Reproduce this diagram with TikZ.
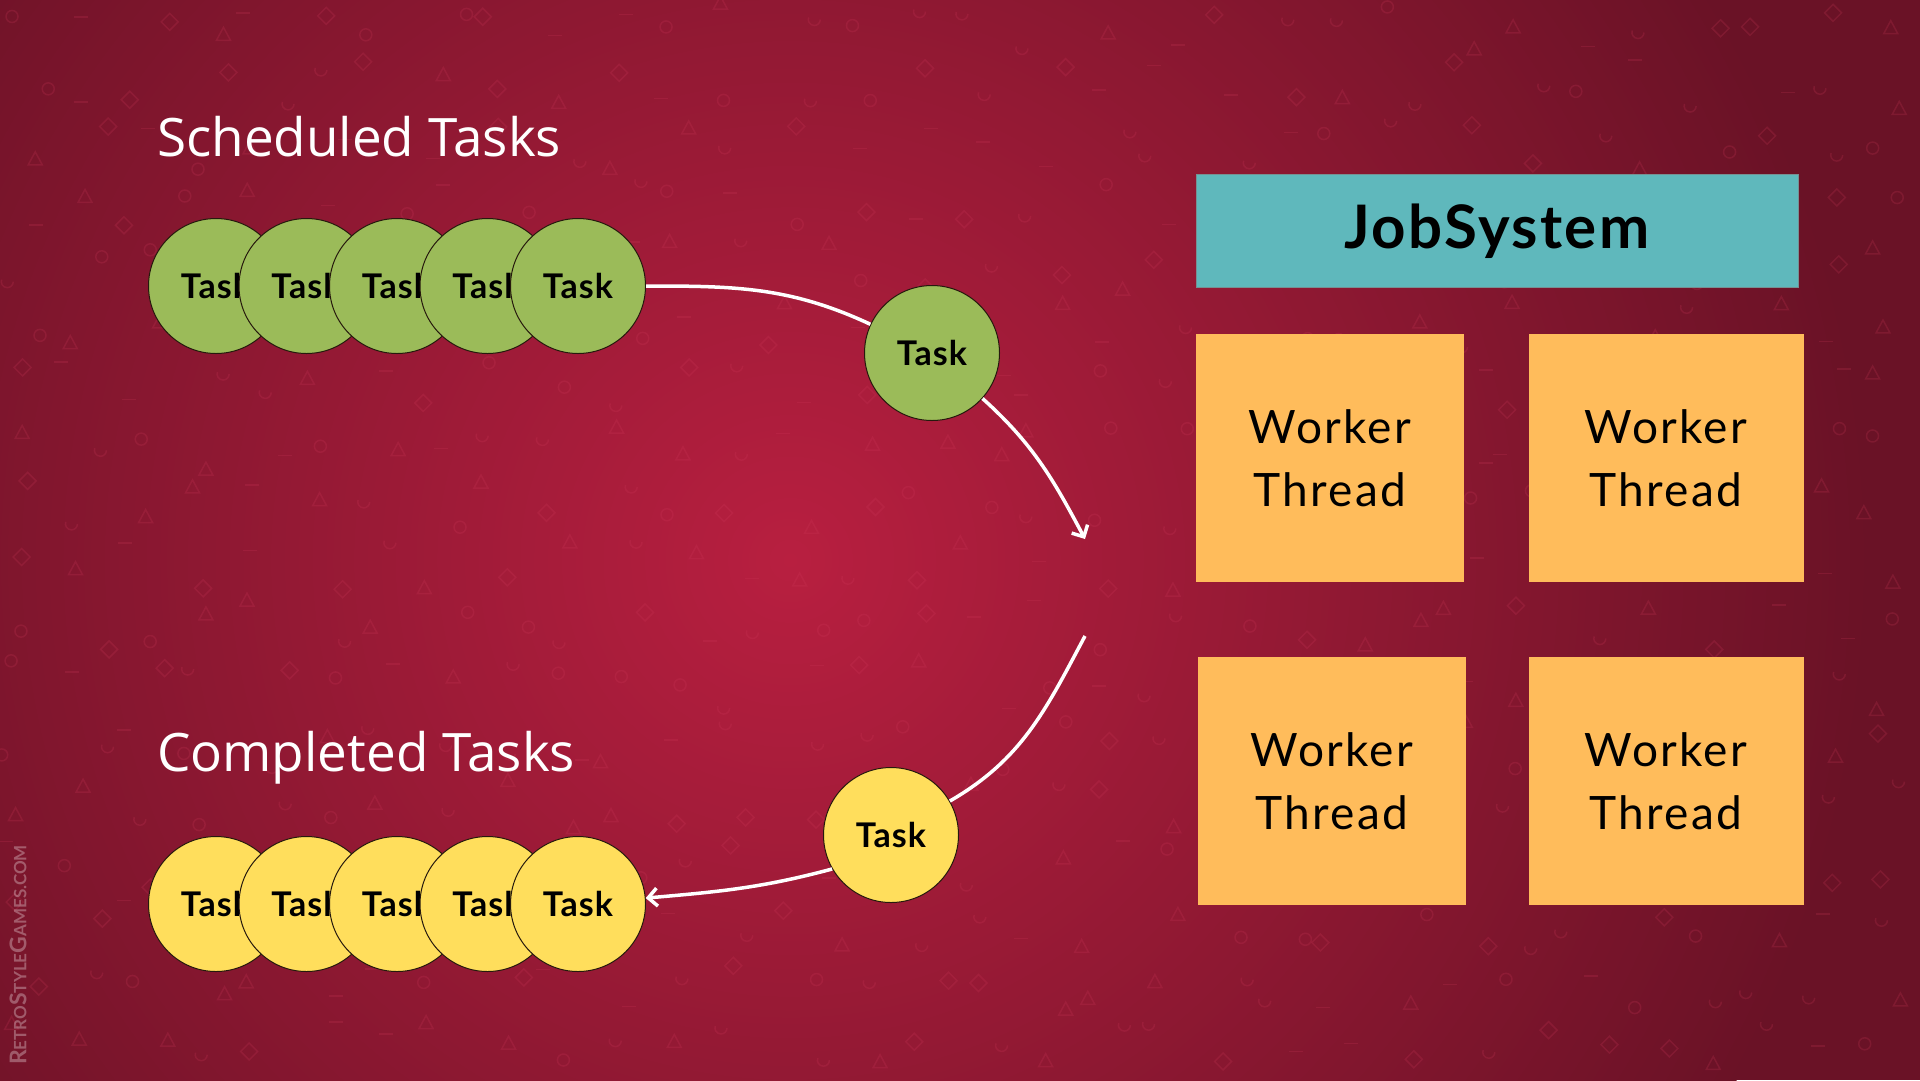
\documentclass[tikz,border=0pt]{standalone}
\usepackage{fontspec}
\setmainfont{Open Sans}
\newfontfamily\latofont{Lato}
\usetikzlibrary{arrows.meta,positioning}
\definecolor{bgdark}{HTML}{6A1226}
\definecolor{bglight}{HTML}{B81F40}
\definecolor{taskgreen}{HTML}{9BBB59}
\definecolor{taskyellow}{HTML}{FFDE5C}
\definecolor{jobteal}{HTML}{5FB8BC}
\definecolor{workerorange}{HTML}{FFBC5B}
\definecolor{motif}{HTML}{D23A5C}
\tikzset{>={Straight Barb[length=9pt,width=18pt]}}
\tikzset{task/.style={circle, draw=black!80!brown, line width=1pt, minimum size=135pt, inner sep=0pt,
    font=\latofont\bfseries\addfontfeature{LetterSpace=3}\fontsize{34}{34}\selectfont}}
\tikzset{flow/.style={draw=white, line width=3.5pt}}
\tikzset{worker/.style={fill=workerorange, minimum height=248pt, align=center,
    font=\latofont\addfontfeature{LetterSpace=5}\fontsize{46}{63}\selectfont}}
\tikzset{motifline/.style={draw=motif, line width=1.5pt, opacity=0.2}}

\begin{document}
\begin{tikzpicture}[x=1pt,y=-1pt]
      \useasboundingbox (0,0) rectangle (1920,1080);
      % background
      \fill[bgdark] (0,0) rectangle (1920,1080);
      \begin{scope}
        \clip (0,0) rectangle (1920,1080);
        \shade[inner color=bglight, outer color=bgdark] (790,560) circle (1080);
        \pgfmathsetseed{42}
        \foreach \i in {0,...,31} {
          \foreach \j in {0,...,17} {
            \pgfmathsetmacro\px{\i*60+rnd*50}
            \pgfmathsetmacro\py{\j*60+rnd*50}
            \pgfmathtruncatemacro\k{int(rnd*5)}
            \ifcase\k
              \draw[motifline] (\px,\py) circle (6);
            \or
              \draw[motifline,rotate around={45:(\px,\py)}] (\px-6,\py-6) rectangle (\px+6,\py+6);
            \or
              \draw[motifline] (\px-7,\py) -- (\px+7,\py);
            \or
              \draw[motifline] (\px+6,\py) arc (0:200:6);
            \else
              \draw[motifline] (\px,\py-7) -- (\px+7,\py+6) -- (\px-7,\py+6) -- cycle;
            \fi
          }
        }
      \end{scope}

      % titles
      \node[anchor=base west, inner sep=0pt, text=white, font=\fontsize{53}{53}\selectfont]
        (schedtitle) at (157,156) {Scheduled Tasks};
      \node[anchor=base west, inner sep=0pt, text=white, font=\fontsize{53}{53}\selectfont]
        (donetitle) at (157,771) {Completed Tasks};

      % scheduled queue
      \node[task, fill=taskgreen] (g1) at (216,286) {Task};
      \node[task, fill=taskgreen, right=-45.5pt of g1] (g2) {Task};
      \node[task, fill=taskgreen, right=-45.5pt of g2] (g3) {Task};
      \node[task, fill=taskgreen, right=-45.5pt of g3] (g4) {Task};
      \node[task, fill=taskgreen, right=-45.5pt of g4] (g5) {Task};
      \node[task, fill=taskgreen] (gt) at (932,353) {Task};

      % completed queue
      \node[task, fill=taskyellow] (y1) at (216,904) {Task};
      \node[task, fill=taskyellow, right=-45.5pt of y1] (y2) {Task};
      \node[task, fill=taskyellow, right=-45.5pt of y2] (y3) {Task};
      \node[task, fill=taskyellow, right=-45.5pt of y3] (y4) {Task};
      \node[task, fill=taskyellow, right=-45.5pt of y4] (y5) {Task};
      \node[task, fill=taskyellow] (yt) at (891,835) {Task};

      % job system
      \node[fill=jobteal, draw=gray!70!jobteal, line width=1pt, minimum width=602pt, minimum height=113pt,
        font=\latofont\bfseries\addfontfeature{LetterSpace=4}\fontsize{60}{60}\selectfont]
        (jobsys) at (1497,231) {JobSystem};
      \node[worker, minimum width=268pt] (w1) at (1330,458) {Worker\\Thread};
      \node[worker, minimum width=275pt] (w2) at (1666,458) {Worker\\Thread};
      \node[worker, minimum width=268pt] (w3) at (1332,781) {Worker\\Thread};
      \node[worker, minimum width=275pt] (w4) at (1666,781) {Worker\\Thread};

      % flow
      \coordinate (inA) at (1085,539);
      \coordinate (outB) at (1085,636);
      \draw[flow] (g5) to[out=0,in=155] (gt);
      \draw[flow,->] (gt) to[out=-42,in=118] (inA);
      \draw[flow] (outB) to[out=-118,in=30] (yt);
      \draw[flow,->] (yt.-150) to[out=195,in=5] (y5);

      % watermark
      \node[rotate=90, text=white, text opacity=0.3, inner sep=0pt, font=\latofont\bfseries]
        (mark) at (18,955) {{\fontsize{23}{23}\selectfont R}{\fontsize{17}{17}\selectfont ETRO}{\fontsize{23}{23}\selectfont S}{\fontsize{17}{17}\selectfont TYLE}{\fontsize{23}{23}\selectfont G}{\fontsize{17}{17}\selectfont AMES.COM}};
    \end{tikzpicture}
\end{document}
